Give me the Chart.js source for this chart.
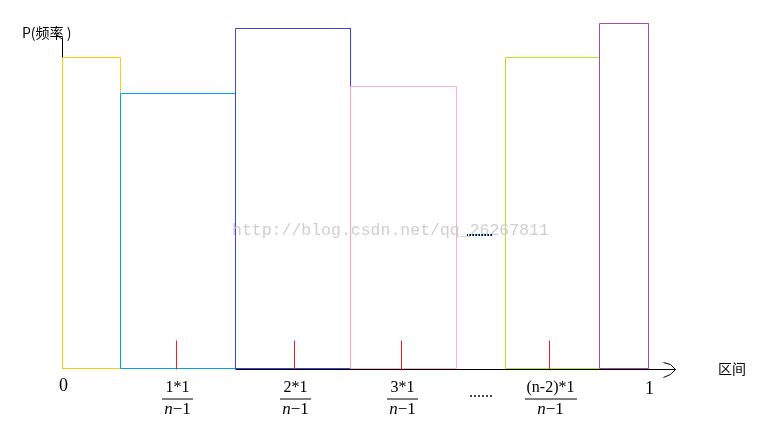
<!DOCTYPE html>
<html>
<head>
<meta charset="utf-8">
<script src="https://cdn.jsdelivr.net/npm/chart.js@4"></script>
<style>
  html, body { margin: 0; padding: 0; background: #fff; }
  #box { width: 762px; height: 437px; }
</style>
</head>
<body>
<div id="box"><canvas id="grafico"></canvas></div>
<script>
// intervalos (bins) do histograma, em unidades do eixo [0, 1]
const binStart = [0, 0.0990, 0.2952, 0.4915, 0.7560, 0.9164];
const binEnd = [0.0990, 0.2952, 0.4915, 0.6724, 0.9164, 1];
const freq = [0.311, 0.275, 0.340, 0.282, 0.311, 0.345];

// marcas vermelhas e rótulos do eixo x
const tickPos = [0.1945, 0.3959, 0.5785, 0.8311];
const tickNum = ['1*1', '2*1', '3*1', '(n-2)*1'];
const tickDen = 'n';
const tickHeight = 0.028;
const endPos = [0, 1];
const endLabels = ['0', '1'];
const gapPos = 0.714;
const axisEnd = 1.046;

const yTitle = 'P(频率 )';
const xTitle = '区间';
const watermark = 'http://blog.csdn.net/qq_26267811';

const binColors = ['#ffc90e', '#00a2e8', '#3f48cc', '#ffaec9', '#b5e61d', '#a349a4'];

const lineBase = {
    type: 'line',
    showLine: true,
    fill: false,
    tension: 0,
    pointRadius: 0,
    borderWidth: 1,
    clip: false
};

const datasets = [];
binStart.forEach((s, i) => {
    datasets.push({
        ...lineBase,
        label: 'bin' + i,
        order: 20 - i,
        borderColor: binColors[i],
        data: [
            { x: s, y: 0 }, { x: s, y: freq[i] },
            { x: binEnd[i], y: freq[i] }, { x: binEnd[i], y: 0 }, { x: s, y: 0 }
        ]
    });
});
tickPos.forEach((p, i) => {
    datasets.push({
        ...lineBase,
        label: 'tick' + i,
        order: 1,
        borderColor: '#ed1c24',
        data: [{ x: p, y: -0.001 }, { x: p, y: tickHeight }]
    });
});
datasets.push({
    ...lineBase, label: 'eixoX', order: 40, borderColor: '#000',
    data: [{ x: binStart[2], y: -0.001 }, { x: axisEnd, y: -0.001 }]
});
datasets.push({
    ...lineBase, label: 'eixoY', order: 40, borderColor: '#000',
    data: [{ x: 0, y: 0 }, { x: 0, y: 0.331 }]
});

const textos = {
    id: 'textos',
    afterDatasetsDraw(chart) {
        const ctx = chart.ctx;
        const xs = chart.scales.x, ys = chart.scales.y;
        const y0 = ys.getPixelForValue(0);
        ctx.save();

        // setas
        ctx.strokeStyle = '#000';
        ctx.lineWidth = 1;
        const ax = xs.getPixelForValue(axisEnd), ay = ys.getPixelForValue(-0.001);
        ctx.beginPath();
        ctx.moveTo(ax - 12, ay - 7);
        ctx.lineTo(ax - 5, ay - 5);
        ctx.lineTo(ax, ay);
        ctx.lineTo(ax - 5, ay + 5);
        ctx.lineTo(ax - 12, ay + 8);
        ctx.stroke();
        const vx = xs.getPixelForValue(0), vy = ys.getPixelForValue(0.331);
        ctx.beginPath();
        ctx.moveTo(vx - 6, vy - 3);
        ctx.lineTo(vx, vy + 2);
        ctx.stroke();

        // marca d'água
        ctx.fillStyle = '#cfcfcf';
        ctx.font = '16.5px "Liberation Mono", monospace';
        ctx.textAlign = 'left';
        ctx.textBaseline = 'alphabetic';
        ctx.fillText(watermark, 232, 235);

        // pontilhado azul
        ctx.lineWidth = 2;
        ctx.setLineDash([1, 2]);
        ctx.strokeStyle = '#000';
        ctx.beginPath();
        ctx.moveTo(467, 235);
        ctx.lineTo(493, 235);
        ctx.stroke();
        ctx.strokeStyle = '#0072bc';
        ctx.lineDashOffset = 1;
        ctx.beginPath();
        ctx.moveTo(467, 235);
        ctx.lineTo(493, 235);
        ctx.stroke();
        ctx.setLineDash([]);

        // títulos dos eixos
        ctx.fillStyle = '#000';
        ctx.textBaseline = 'middle';
        ctx.font = '14px "Noto Sans CJK SC", sans-serif';
        ctx.textAlign = 'left';
        ctx.fillText(yTitle, 22, 33);
        ctx.fillText(xTitle, 718, 369);

        // 0 e 1
        ctx.textAlign = 'center';
        ctx.font = '18px "Liberation Serif", serif';
        ctx.fillText(endLabels[0], xs.getPixelForValue(endPos[0]) + 1, y0 + 18);
        ctx.fillText(endLabels[1], xs.getPixelForValue(endPos[1]) + 1, y0 + 21);

        // frações
        tickPos.forEach((p, i) => {
            const px = xs.getPixelForValue(p);
            ctx.font = '16px "Liberation Serif", serif';
            ctx.textAlign = 'center';
            const numW = ctx.measureText(tickNum[i]).width;
            ctx.fillText(tickNum[i], px + 1, y0 + 19);
            // denominador: n (itálico) − 1
            ctx.font = 'italic 17px "Liberation Serif", serif';
            const nW = ctx.measureText(tickDen).width;
            ctx.font = '17px "Liberation Serif", serif';
            const restW = ctx.measureText('−1').width;
            const denW = nW + restW;
            const left = px + 1 - denW / 2;
            ctx.textAlign = 'left';
            ctx.font = 'italic 17px "Liberation Serif", serif';
            ctx.fillText(tickDen, left, y0 + 41);
            ctx.font = '17px "Liberation Serif", serif';
            ctx.fillText('−1', left + nW, y0 + 41);
            const barW = Math.max(numW, denW) + 4;
            ctx.fillRect(Math.round(px + 1 - barW / 2), y0 + 30, Math.round(barW), 1);
        });

        // reticências entre as frações
        ctx.textAlign = 'center';
        ctx.font = '16px "Liberation Serif", serif';
        ctx.fillText('......', xs.getPixelForValue(gapPos), y0 + 24);

        ctx.restore();
    }
};

const x0 = 62.5, pxPorUnidadeX = 586;
const yBase = 368.5, pxPorUnidadeY = 1000;

new Chart(document.getElementById('grafico').getContext('2d'), {
    type: 'line',
    data: { datasets: datasets },
    options: {
        responsive: true,
        maintainAspectRatio: false,
        animation: false,
        events: [],
        layout: { padding: 0 },
        plugins: { legend: { display: false }, tooltip: { enabled: false } },
        scales: {
            x: {
                type: 'linear', display: false,
                min: -x0 / pxPorUnidadeX,
                max: (762 - x0) / pxPorUnidadeX
            },
            y: {
                type: 'linear', display: false,
                min: -(437 - yBase) / pxPorUnidadeY,
                max: yBase / pxPorUnidadeY
            }
        }
    },
    plugins: [textos]
});
</script>
</body>
</html>
